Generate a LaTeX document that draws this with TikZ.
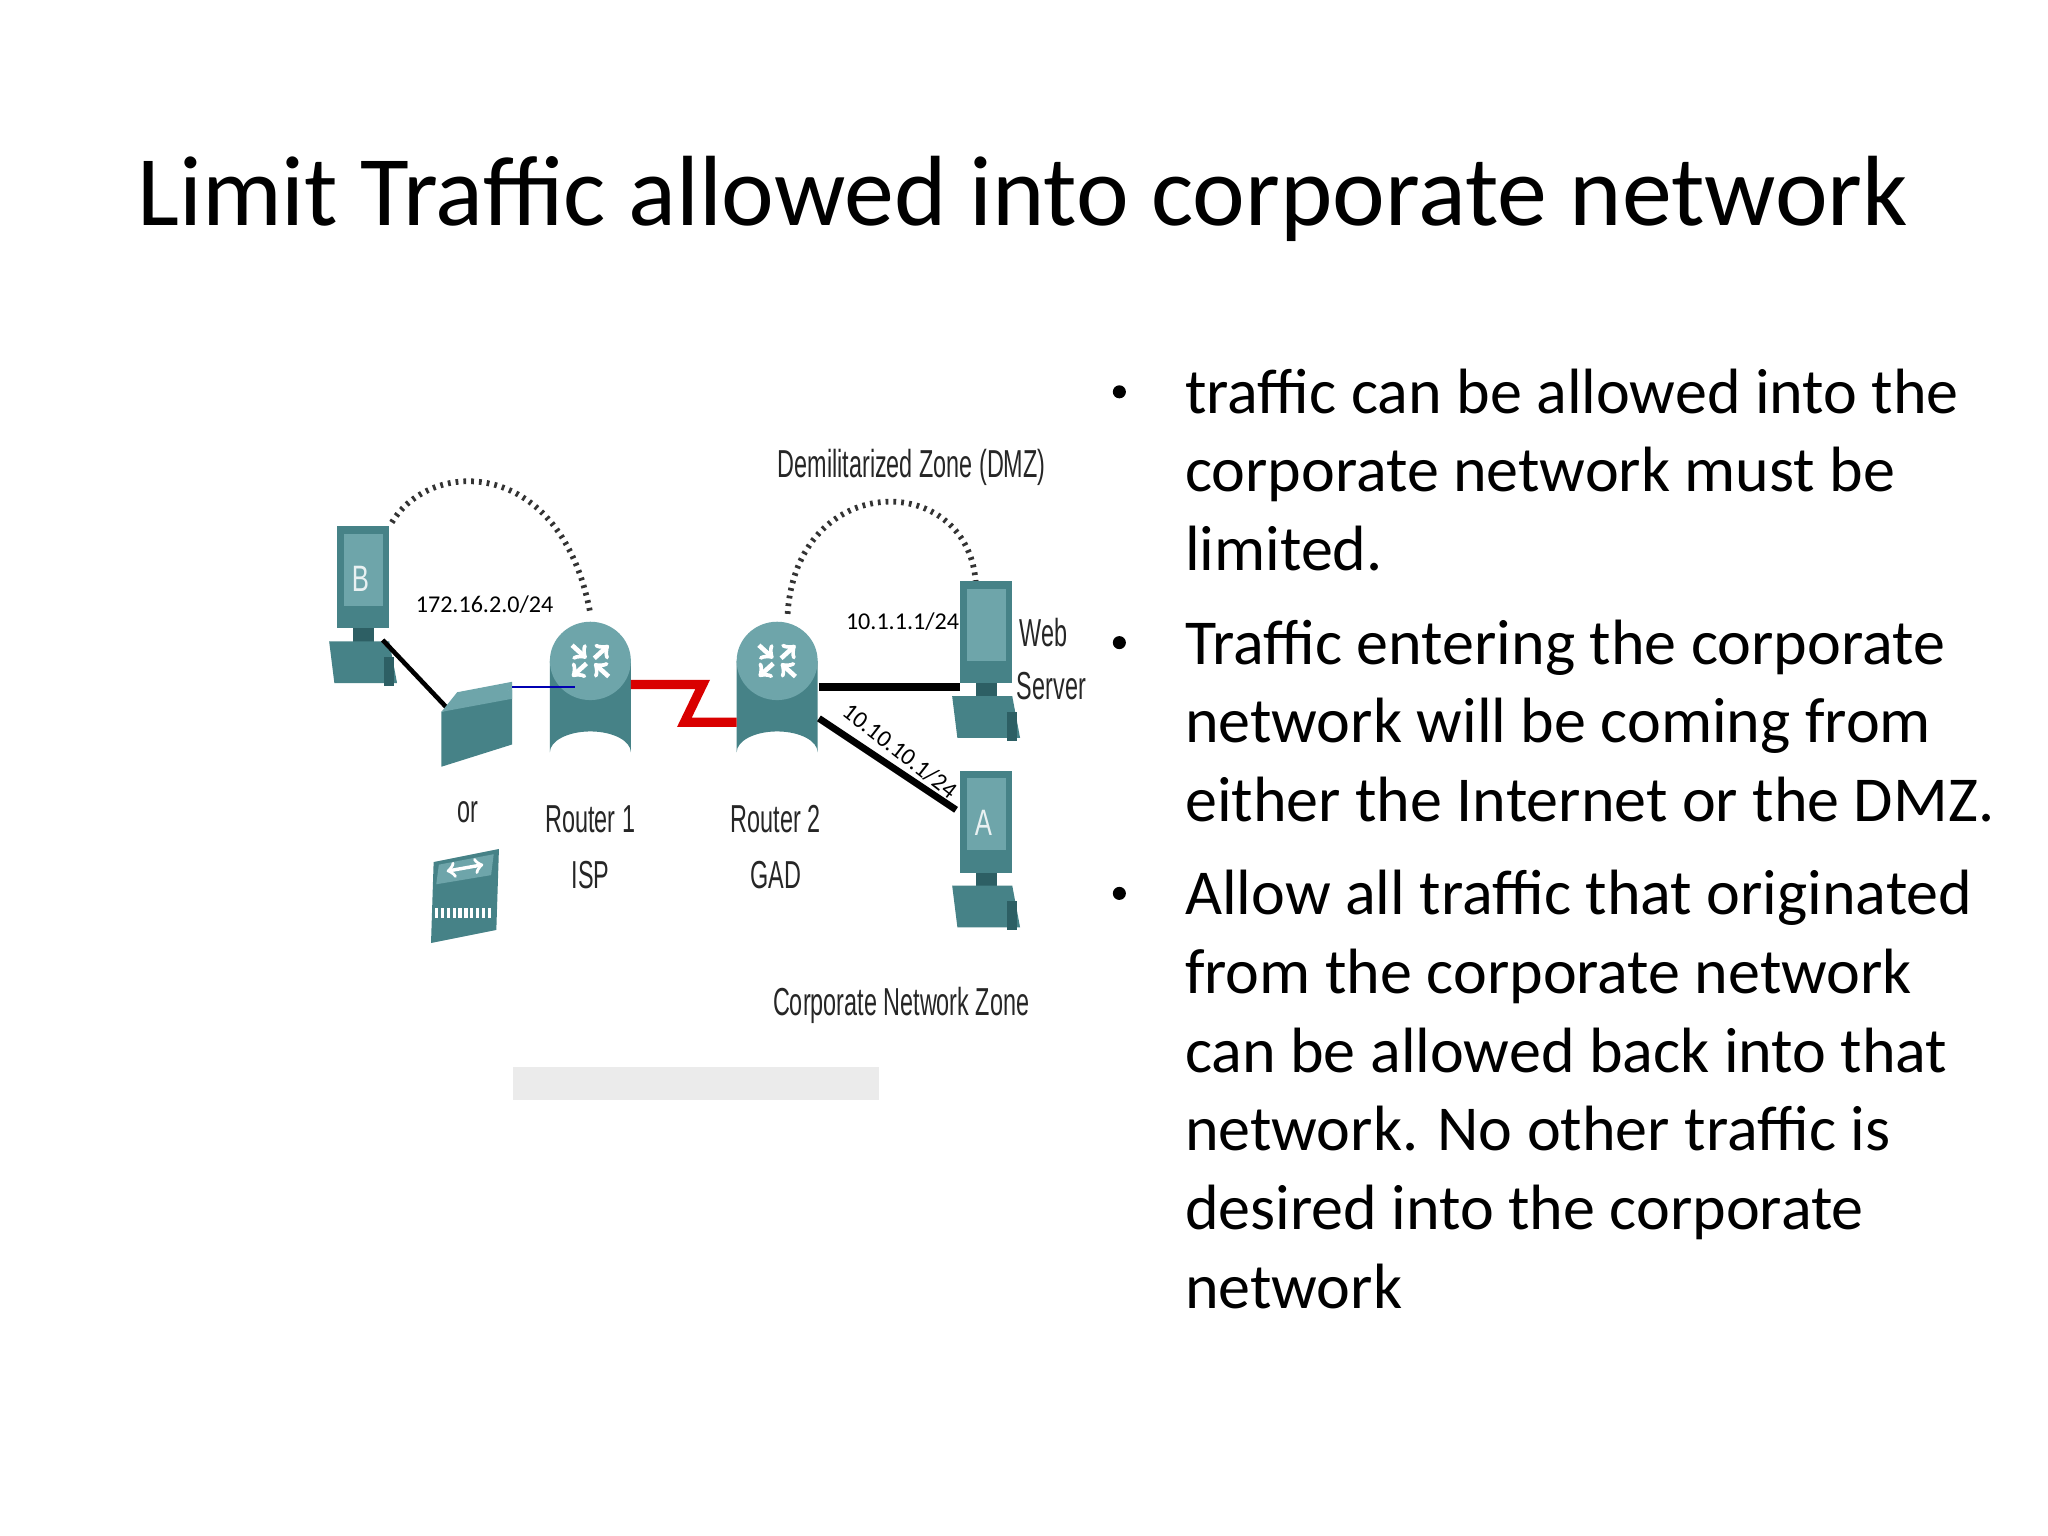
\documentclass[tikz,border=0pt]{standalone}
\usepackage{fontspec}
\setmainfont{Carlito}
\newfontfamily\lab{Liberation Sans}
\usetikzlibrary{shapes.geometric}
\definecolor{teal1}{RGB}{70,130,135}
\definecolor{teal2}{RGB}{110,165,170}
\definecolor{teal3}{RGB}{45,95,100}
\tikzset{
 lbl/.style={font=\lab\fontsize{17}{18}\selectfont,xscale=0.6,text=black!85},
 ip/.style={font=\fontsize{10.5}{12}\selectfont},
 dots/.style={line width=2.5pt,dash pattern=on 1.2pt off 2.2pt,black!80},
 bul/.style={font=\fontsize{27.9}{34.3}\selectfont,align=left,anchor=north west,inner sep=0pt}
}
\newcommand\comp[3]{% x y letter
 \fill[teal1] (#1,#2) rectangle ++(40,78);
 \fill[teal2] (#1+5,#2+6) rectangle ++(30,55);
 \node[text=white!85!teal2,font=\lab\fontsize{16}{16}\selectfont,xscale=0.7] at (#1+18,#2+40) {#3};
 \fill[teal3] (#1+12,#2+78) rectangle ++(16,12);
 \fill[teal1] (#1-6,#2+88) -- (#1+40,#2+88) -- (#1+46,#2+120) -- (#1-2,#2+120) -- cycle;
 \fill[teal3] (#1+36,#2+100) rectangle ++(8,22);
}
\newcommand\router[2]{% center x, top ellipse y
 \fill[teal1] (#1-31,#2) -- (#1-31,#2+70) arc(180:360:31 and 16) -- (#1+31,#2) -- cycle;
 \fill[teal2] (#1,#2) ellipse (31 and 30);
 \draw[white,line width=2pt,->] (#1-14,#2-12) -- (#1-3,#2-2);
 \draw[white,line width=2pt,->] (#1+14,#2+12) -- (#1+3,#2+2);
 \draw[white,line width=2pt,->] (#1+3,#2-2) -- (#1+14,#2-12);
 \draw[white,line width=2pt,->] (#1-3,#2+2) -- (#1-14,#2+12);
}
\begin{document}
\begin{tikzpicture}[x=0.02cm,y=-0.02cm]
\useasboundingbox[fill=white] (0,0) rectangle (1568,1176);
\node[font=\fontsize{43.5}{50}\selectfont] (title) at (783,152) {Limit Traffic allowed into corporate network};
% diagram
\draw[dots] (300,400) .. controls (330,350) and (430,350) .. (452,470);
\draw[dots] (603,470) .. controls (610,360) and (740,360) .. (747,445);
\comp{258}{403}{B}
\comp{735}{445}{}
\comp{735}{590}{A}
\draw[line width=2pt] (293,490) -- (346,546);
% switch
\fill[teal1] (338,545) -- (392,528) -- (392,570) -- (338,587) -- cycle;
\fill[teal2] (345,538) -- (392,528) -- (392,535) -- (338,545) -- cycle;
\fill[teal2] (350,530) -- (392,522) -- (392,528) -- (338,545) -- cycle;
% hub
\fill[teal1] (332,660) -- (382,650) -- (380,712) -- (330,722) -- cycle;
\fill[teal2] (336,662) -- (378,654) -- (376,670) -- (334,677) -- cycle;
\draw[white,line width=1.5pt,<->] (342,667) -- (370,662);
\foreach \i in {0,...,9} \fill[white] (333+4.5*\i,695) rectangle ++(2.5,8);
\router{452}{506}
\router{595}{506}
\draw[blue!70!black,line width=0.6pt] (392,526) -- (440,526);
\draw[red!85!black,line width=4pt] (483,524) -- (538,524) -- (524,553) -- (564,553);
\draw[line width=3.5pt] (627,526) -- (735,526);
\draw[line width=3pt] (627,550) -- (732,620);
\node[lbl] (dmz) at (698,358) {Demilitarized Zone (DMZ)};
\node[lbl] at (358,622) {or};
\node[lbl] at (452,627) {Router 1};
\node[lbl] at (452,670) {ISP};
\node[lbl] at (594,627) {Router 2};
\node[lbl] at (594,670) {GAD};
\node[lbl] at (799,484) {Web};
\node[lbl] at (805,525) {Server};
\node[lbl] at (690,770) {Corporate Network Zone};
\fill[black!8] (393,817) rectangle (673,842);
\node[ip] at (371,463) {172.16.2.0/24};
\node[ip] at (691,476) {10.1.1.1/24};
\node[ip,rotate=-38] at (689,575) {10.10.10.1/24};
% bullets
\foreach \y in {304,496,688} \fill (857,\y-4) circle (5);
\node[bul] at (907,282) {traffic can be allowed into the\\corporate network must be\\limited.};
\node[bul] at (907,474) {Traffic entering the corporate\\network will be coming from\\either the Internet or the DMZ.};
\node[bul] at (907,666) {Allow all traffic that originated\\from the corporate network\\can be allowed back into that\\network. No other traffic is\\desired into the corporate\\network};
\end{tikzpicture}
\end{document}
